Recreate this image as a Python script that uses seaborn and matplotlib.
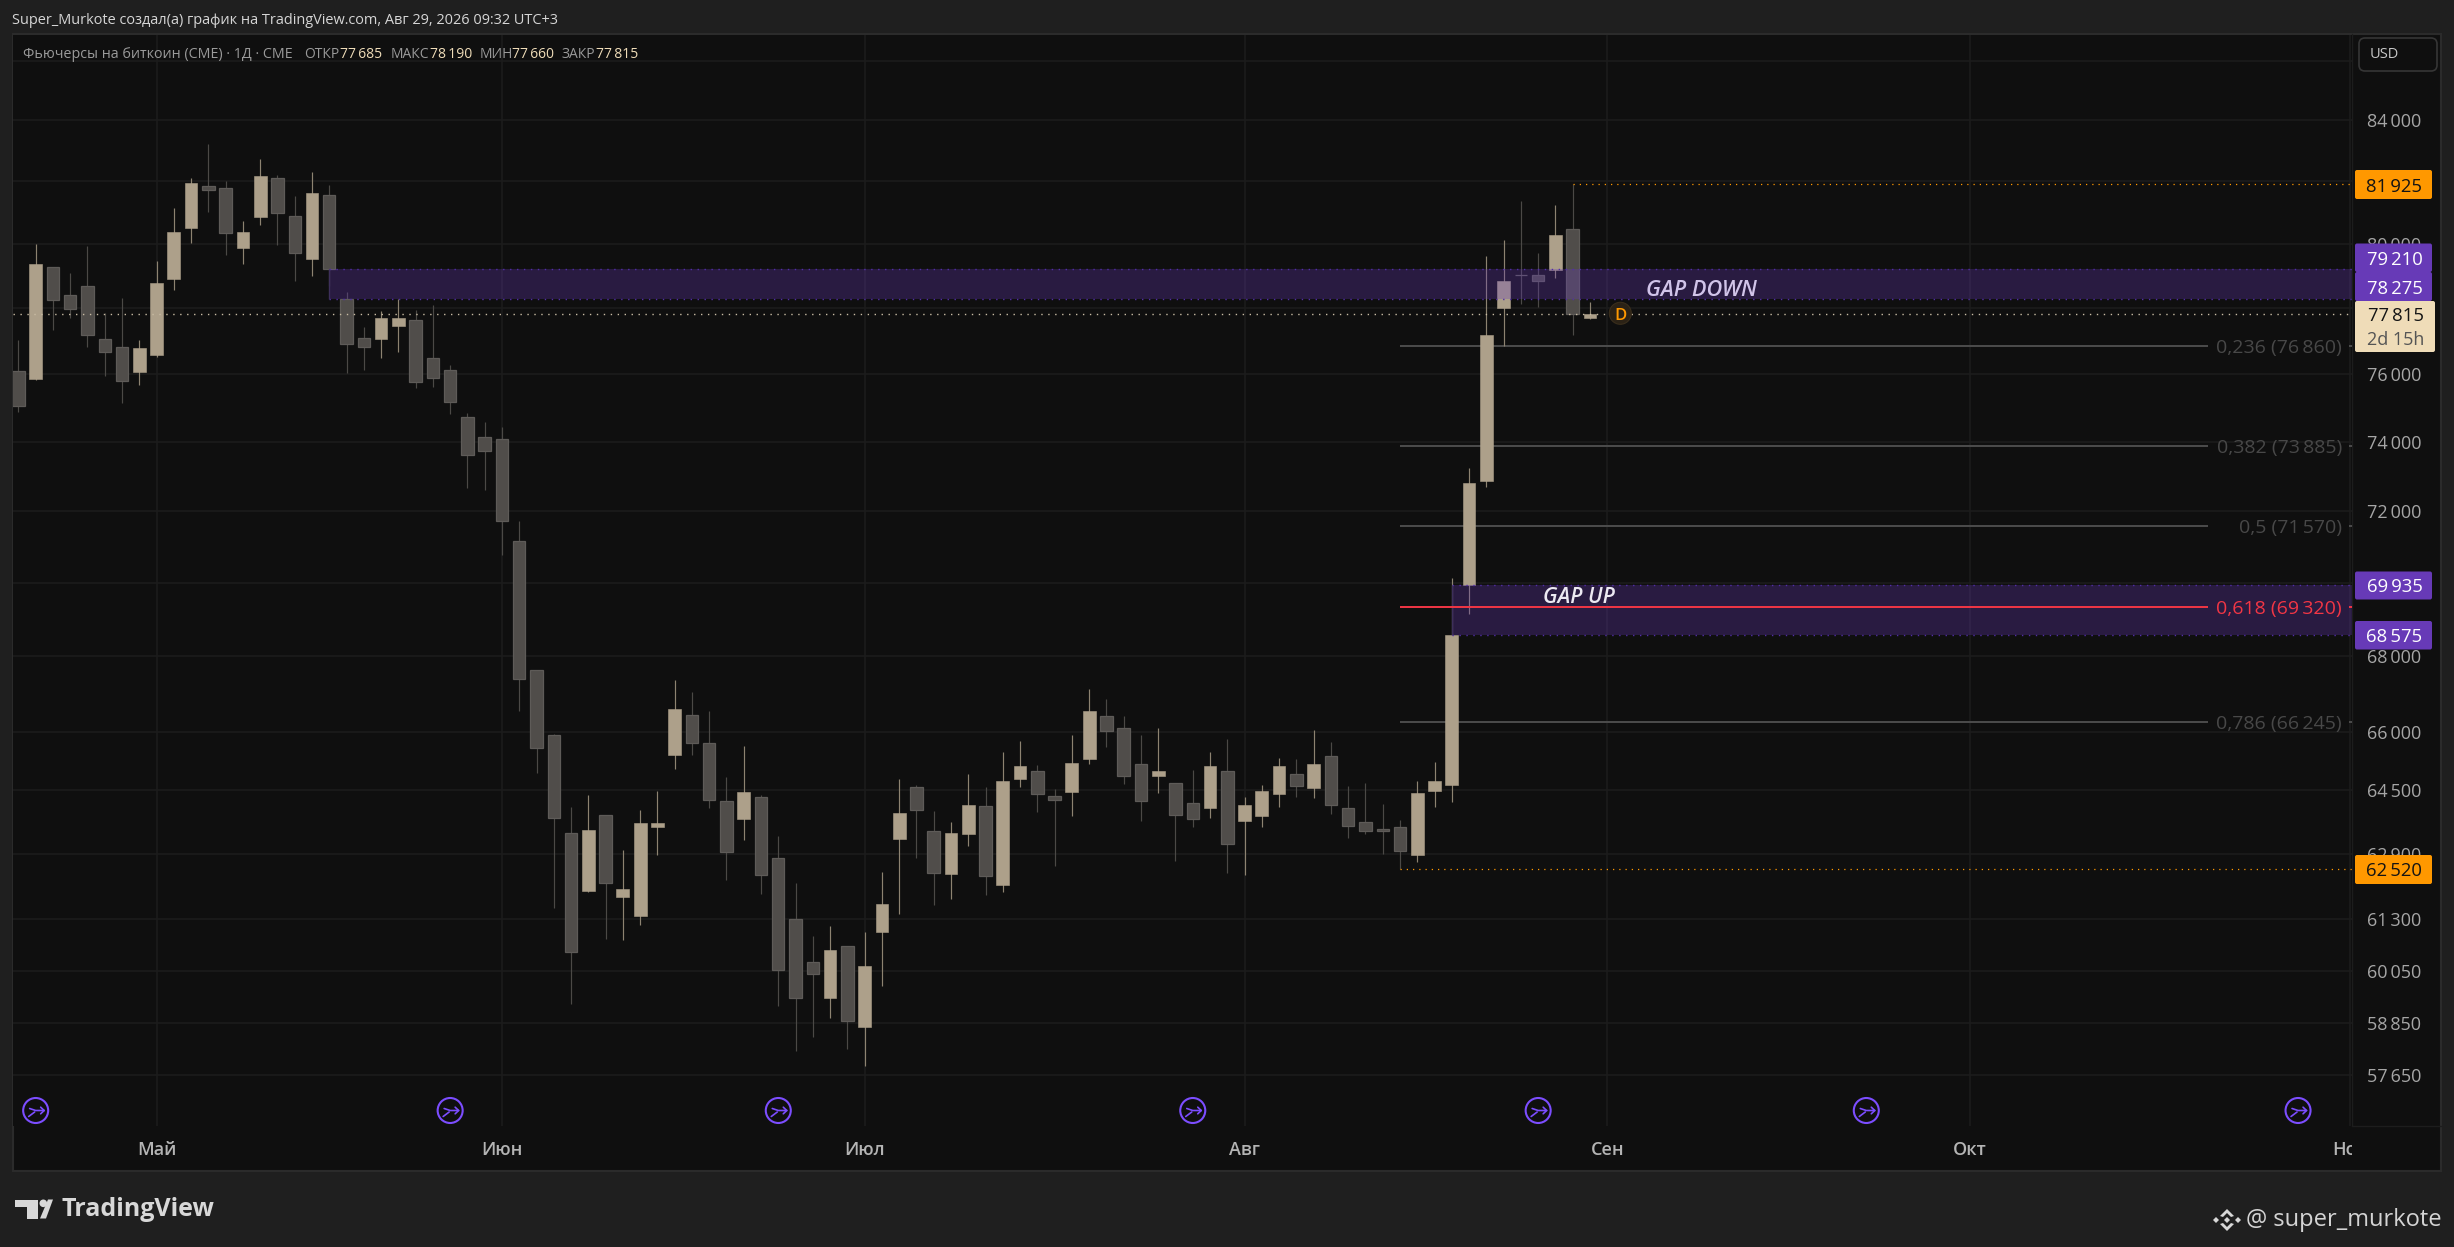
import numpy as np
import pandas as pd
import matplotlib
matplotlib.use("Agg")
import matplotlib.pyplot as plt
from matplotlib.patches import Rectangle, FancyBboxPatch, Circle, Polygon
from matplotlib.ticker import NullLocator
from matplotlib.transforms import Bbox
import seaborn as sns

# ---------- data ----------
open_ = [76100,75860,79290,78415,78700,77070,76800,76070,76585,78915,80520,81840,81790,79885,80870,82110,80900,79540,81565,78275,
         77100,77070,77465,77635,76485,76130,74720,74130,74070,71160,67640,65905,63410,61995,63860,61830,61365,63575,65390,66430,
         65715,64225,63760,64325,62800,61300,60265,59425,60650,58745,60995,63260,64580,63475,62390,63385,64100,62120,64795,64990,
         64350,64460,65285,66420,66105,65170,64870,64680,64175,64035,64990,63710,63835,64410,64915,64560,65380,64050,63700,63525,
         63575,62875,64480,64640,69935,72870,78005,79025,79035,79190,80470,77685]
high_ = [77040,80010,79290,79105,79950,77850,78325,77040,79450,81155,82110,83225,82000,80740,82730,82210,81535,82305,81885,78510,
         77435,77920,78280,77950,78105,76285,74855,74570,74425,71720,67640,65930,64060,64385,63860,62985,63990,64485,67375,67035,
         66535,64845,65620,64385,63335,62170,60900,61140,60650,60995,62440,64795,64640,63960,63685,64920,64585,65465,65750,65130,
         64535,65905,67115,66850,66405,65905,66090,64680,65025,65465,65825,64335,64640,65310,65285,66035,65725,64610,64690,64135,
         63735,64740,65215,70130,73245,79625,80125,81375,79720,81245,81925,78190]
low_ = [74880,75830,77345,77705,76800,75950,75150,75680,76525,78570,80045,81025,79665,79385,80615,79980,78825,79010,78700,76040,
        76130,76495,76675,75595,75625,74820,72670,72610,70765,66535,64925,61560,59290,61970,60825,60800,61170,62865,65050,65390,
        64035,62245,63235,61900,59235,58200,58520,58950,58245,57860,59705,61430,62785,61650,61800,63085,61875,61950,64585,63935,
        62590,63835,65180,65595,64665,63710,64435,62710,63560,63785,62415,62365,63560,64060,64335,64310,63885,63285,63385,62885,
        62520,62700,64075,64205,69125,72680,76835,78130,78035,78940,77185,77660]
close_ = [75040,79385,78240,77980,77170,76655,75780,76770,78790,80390,81945,81705,80340,80390,82175,80975,79730,81630,79210,76900,
          76830,77705,77705,75770,75890,75160,73610,73720,71730,67385,65570,63790,60500,63485,62180,62045,63670,63670,66590,65700,
          64260,62940,64460,62375,60090,59430,59995,60565,58890,60180,61675,63910,63990,62425,63410,64110,62350,64740,65105,64390,
          64260,65205,66535,66020,64855,64215,64975,63865,63765,65105,63140,64110,64485,65105,64610,65180,64115,63590,63465,63465,
          62965,64435,64740,68575,72815,77185,78845,79015,78845,80280,77820,77815]

price_ticks = [86000,84000,82000,80000,78000,76000,74000,72000,70000,68000,66000,64500,62900,61300,60050,58850,57650]
hidden_tick_labels = [86000,82000,78000,70000]  # fully covered by the tags in the reference
month_idx = [8,28,49,71,92,113,135]
month_labels = ["Май","Июн","Июл","Авг","Сен","Окт","Ноя"]
fib_levels = [0.236,0.382,0.5,0.618,0.786]
fib_prices = [76860,73885,71570,69320,66245]
gap_down = (78275,79210)
gap_up = (68575,69935)
last_price = 77815
swing_high = 81925
swing_low = 62520
event_idx = [1,25,44,68,88,107,132]

# ---------- theme ----------
BG = "#0f0f0f"; OUTER = "#1f1f1f"; GRID = "#1c1c1c"
UP = "#ada08a"; DOWN = "#504d4a"; DOWN_EDGE = "#5e5b58"
UPW = "#8d8371"; DOWNW = "#4b4946"
PURPLE = "#673ab7"; ORANGE = "#ff9800"; CREAM = "#efdcb8"; VIOLET = "#7c4dff"
sns.set_theme(style="dark", rc={"figure.facecolor": OUTER, "axes.facecolor": BG, "savefig.facecolor": OUTER})
plt.rcParams["font.family"] = ["Open Sans", "DejaVu Sans"]

W, H = 2454, 1247
fig = plt.figure(figsize=(W/100, H/100), dpi=100)

def full_axes(z):
    a = fig.add_axes([0, 0, 1, 1], zorder=z)
    a.set_xlim(0, W); a.set_ylim(H, 0); a.axis("off"); a.patch.set_alpha(0)
    return a

bg = full_axes(-1)
bg.add_patch(Rectangle((13, 34), 2428, 1137, facecolor=BG, edgecolor="#2b2b2b", lw=1.5))
bg.plot([2352, 2352], [34, 1126], color="#1d1d1d", lw=1)
bg.plot([2352, 2441], [1126, 1126], color="#1d1d1d", lw=1)

# ---------- price pane ----------
L, R, T, B = 13, 2352, 35, 1126
ax = fig.add_axes([L/W, 1-B/H, (R-L)/W, (B-T)/H], zorder=1)
ax.set_facecolor(BG)
ax.set_yscale("log")
ax.set_axisbelow(True)

df = pd.DataFrame({"i": np.arange(len(open_)), "o": open_, "h": high_, "l": low_, "c": close_})
df["top"] = df[["o", "c"]].max(axis=1)
df["bot"] = df[["o", "c"]].min(axis=1)
df["body"] = df["top"] - df["bot"]
ups = df[df.c >= df.o]; downs = df[df.c < df.o]

ax.vlines(ups.i, ups.l, ups.h, color=UPW, lw=0.85, zorder=2.6)
ax.vlines(downs.i, downs.l, downs.h, color=DOWNW, lw=0.85, zorder=2.6)
sns.barplot(data=downs, x="i", y="body", native_scale=True, errorbar=None, color=DOWN, saturation=1,
            width=0.72, bottom=downs.bot.values, edgecolor=DOWN_EDGE, linewidth=0.9, zorder=3, ax=ax)
sns.barplot(data=ups, x="i", y="body", native_scale=True, errorbar=None, color=UP, saturation=1,
            width=0.74, bottom=ups.bot.values, edgecolor=UP, linewidth=0.4, zorder=3, ax=ax)

X0, STEP = 18.4, 17.27
to_idx = lambda px: (px - X0) / STEP
xl, xr = to_idx(L), to_idx(R)

# fibonacci levels
for lv, pr in zip(fib_levels, fib_prices):
    red = lv == 0.618
    col = "#f23645" if red else "#4c4c4c"
    z = 5 if red else 2
    ax.hlines(pr, 80, to_idx(2208), color=col, lw=1.4, zorder=z)
    ax.hlines(pr, to_idx(2349), xr, color=col, lw=1.4, zorder=z)
    lab = f"{lv:.3f}".rstrip("0").replace(".", ",") if lv != 0.5 else "0,5"
    txt = f"{lab} ({pr//1000}\u2009{pr%1000:03d})"
    ax.text(to_idx(2342), pr, txt, color="#f23645" if red else "#484848", fontsize=14,
            ha="right", va="center_baseline", zorder=6)

# gap zones
dot = (0, (1, 4))
for lo, hi, start in [(gap_down[0], gap_down[1], 18), (gap_up[0], gap_up[1], 83)]:
    ax.add_patch(Rectangle((start, lo), xr-start, hi-lo, facecolor=PURPLE, alpha=0.3, lw=0, zorder=4))
    ax.hlines([lo, hi], start, xr, color="#512da8", lw=1.0, linestyles=[dot], zorder=4.1)
    ax.vlines(start, lo, hi, color="#3d2f5a", lw=1.0, zorder=4.1)
ax.text(to_idx(1646), 78555, "GAP DOWN", color="#d1c4e9", style="italic",
        fontsize=15.7, fontweight="semibold", ha="left", va="center", zorder=6)
ax.text(to_idx(1543), 69590, "GAP UP", color="#ece9f2", style="italic",
        fontsize=15.4, fontweight="semibold", ha="left", va="center", zorder=6)

# dotted price lines
ax.hlines(last_price, xl, xr, color="#c9bca4", lw=1.0, linestyles=[dot], zorder=5)
ax.hlines(swing_high, 90, xr, color=ORANGE, lw=0.9, linestyles=[dot], zorder=5)
ax.hlines(swing_low, 80, xr, color=ORANGE, lw=0.9, linestyles=[dot], zorder=5)

ax.set_xlim(xl, xr)
ax.set_ylim(56498, 86872)
ax.set_xlabel(""); ax.set_ylabel("")
ax.yaxis.tick_right()
ax.set_yticks(price_ticks)
ax.set_yticklabels(["" if p in hidden_tick_labels else f"{p//1000}\u2009{p%1000:03d}" for p in price_ticks],
                   color="#a6a6a6", fontsize=13)
ax.yaxis.set_minor_locator(NullLocator())
ax.xaxis.set_minor_locator(NullLocator())
ax.set_xticks(month_idx)
ax.set_xticklabels(month_labels, color="#b4b4b4", fontsize=13, fontweight="semibold")
ax.tick_params(axis="y", which="both", length=0, pad=10.5)
ax.tick_params(axis="x", which="both", length=0, pad=10.5)
ax.grid(True, axis="both", color=GRID, lw=1.2)
for s in ax.spines.values():
    s.set_visible(False)
last_tick = ax.xaxis.get_major_ticks()[-1].label1
last_tick.set_clip_on(True)
last_tick.set_clip_box(Bbox([[0, 0], [R, H]]))

# ---------- overlay ----------
ui = full_axes(5)

ui.text(12, 20, "Super_Murkote создал(а) график на TradingView.com, Авг 29, 2026 09:32 UTC+3",
        color="#d6d6d6", fontsize=10.45, va="center", ha="left")

GREY = "#9a9a9a"
ui.text(23, 54, "Фьючерсы на биткоин (CME) · 1Д · CME", color=GREY, fontsize=10.3, va="center")
for x, s, c in [(304, "ОТКР", GREY), (340, "77\u2009685", CREAM), (391, "МАКС", GREY), (430, "78\u2009190", CREAM),
                (480, "МИН", GREY), (512, "77\u2009660", CREAM), (562, "ЗАКР", GREY), (596, "77\u2009815", CREAM)]:
    ui.text(x, 54, s, color=c, fontsize=10, va="center")

ui.add_patch(FancyBboxPatch((2362, 41), 72, 27, boxstyle="round,pad=3,rounding_size=6", facecolor=BG, edgecolor="#363636", lw=1.2))
ui.text(2370, 55, "USD", color="#c8c8c8", fontsize=10.5, va="center")

def tag(y0, y1, s, fc, tc, x1=2432):
    ui.add_patch(FancyBboxPatch((2355, y0), x1-2355, y1-y0, boxstyle="round,pad=0,rounding_size=2", facecolor=fc, edgecolor="none"))
    ui.text((2355+x1)/2 + 1, (y0+y1)/2, s, color=tc, fontsize=13.3, ha="center", va="center_baseline")

tag(170, 199, "81\u2009925", ORANGE, "#141414")
tag(243.5, 272, "79\u2009210", PURPLE, "#ffffff")
tag(272, 301, "78\u2009275", PURPLE, "#ffffff")
ui.add_patch(FancyBboxPatch((2355, 301), 80, 51, boxstyle="round,pad=0,rounding_size=2", facecolor=CREAM, edgecolor="none"))
ui.text(2396, 314, "77\u2009815", color="#141414", fontsize=13.3, ha="center", va="center_baseline")
ui.text(2396, 338, "2d 15h", color="#555555", fontsize=13, ha="center", va="center_baseline")
tag(571.5, 599.5, "69\u2009935", PURPLE, "#ffffff")
tag(621, 649.5, "68\u2009575", PURPLE, "#ffffff")
tag(855, 884, "62\u2009520", ORANGE, "#141414")

# D marker
ui.add_patch(Circle((1620.3, 313.3), 11, facecolor="#2b2216", edgecolor="#3a2e1c", lw=0.8))
ui.text(1620.3, 313.5, "D", color=ORANGE, fontsize=12, fontweight="semibold", ha="center", va="center_baseline")

# session icons
for i in event_idx:
    cx, cy = X0 + i*STEP, 1110.5
    ui.add_patch(Circle((cx, cy), 12.5, facecolor="none", edgecolor=VIOLET, lw=1.5))
    ui.plot([cx-6, cx, cx+8.5], [cy-2, cy, cy], color=VIOLET, lw=1.2, solid_capstyle="round")
    ui.plot([cx+5, cx+8.5, cx+5], [cy-3.3, cy, cy+3.3], color=VIOLET, lw=1.2, solid_capstyle="round")
    ui.plot([cx-7, cx-1], [cy+6, cy+1.5], color=VIOLET, lw=1.2, solid_capstyle="round")

# TradingView logo
LG = "#d8d8d8"
ui.add_patch(Polygon([(15.3, 1199.5), (38, 1199.5), (38, 1218.5), (27, 1218.5), (27, 1206.5), (15.3, 1206.5)], closed=True, fc=LG, ec="none"))
ui.add_patch(Circle((43.3, 1203.3), 3.8, fc=LG, ec="none"))
ui.add_patch(Polygon([(48, 1199.5), (53, 1199.5), (46, 1218.5), (40, 1218.5)], closed=True, fc=LG, ec="none"))
ui.text(62, 1209, "TradingView", color=LG, fontsize=18, fontweight="bold", va="center", ha="left")

# signature
IC = "#d8d8d8"
c = (2227, 1220)
ui.add_patch(Polygon([(c[0]-7, c[1]-4), (c[0], c[1]-11), (c[0]+7, c[1]-4), (c[0]+4, c[1]-3), (c[0], c[1]-7), (c[0]-4, c[1]-3)], closed=True, fc=IC, ec="none"))
ui.add_patch(Polygon([(c[0]-7, c[1]+4), (c[0], c[1]+11), (c[0]+7, c[1]+4), (c[0]+4, c[1]+3), (c[0], c[1]+7), (c[0]-4, c[1]+3)], closed=True, fc=IC, ec="none"))
for dx in (-11, 11):
    ui.add_patch(Polygon([(c[0]+dx-3, c[1]), (c[0]+dx, c[1]-3), (c[0]+dx+3, c[1]), (c[0]+dx, c[1]+3)], closed=True, fc=IC, ec="none"))
ui.add_patch(Polygon([(c[0]-3, c[1]), (c[0], c[1]-3), (c[0]+3, c[1]), (c[0], c[1]+3)], closed=True, fc=IC, ec="none"))
ui.text(2246, 1220, "@ super_murkote", color="#d4d4d4", fontsize=17, va="center", ha="left")

fig.savefig("out.png", dpi=100, facecolor=OUTER)
